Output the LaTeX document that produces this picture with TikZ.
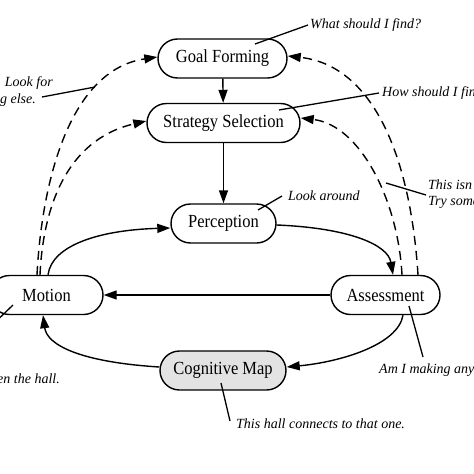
\documentclass[tikz,border=0pt]{standalone}
\usepackage{fontspec}
\setmainfont{Liberation Serif}
\usetikzlibrary{arrows.meta}
\newcommand{\tallbox}[1]{\scalebox{1}[1.12]{#1}}
\begin{document}
\begin{tikzpicture}[x=1pt,y=-1pt,
 box/.style={draw, line width=1.4pt, rounded corners=19.5pt, minimum height=39pt, inner sep=0pt, font=\fontsize{16.5}{20}\selectfont},
 note/.style={font=\fontsize{14}{16}\selectfont\itshape, inner sep=0pt},
 arr/.style={line width=1.4pt, -{Triangle[length=13pt,width=9pt]}},
 darr/.style={arr, dash pattern=on 9pt off 6pt},
 lead/.style={line width=1.3pt}]
\useasboundingbox (0,0) rectangle (474,474);
\clip (0,0) rectangle (474,474);
% boxes
\node[box, minimum width=129pt] (goal) at (222.5,58.5) {\tallbox{Goal Forming}};
\node[box, minimum width=153pt] (strat) at (223.5,123) {\tallbox{Strategy Selection}};
\node[box, minimum width=105pt] (perc) at (223.5,223.5) {\tallbox{Perception}};
\node[box, minimum width=113pt] (motion) at (46.5,295) {\tallbox{Motion}};
\node[box, minimum width=109pt] (assess) at (385.5,295) {\tallbox{Assessment}};
\node[box, minimum width=126pt, fill=gray!22] (cog) at (223,370.5) {\tallbox{Cognitive Map}};
% solid connectors
\draw[arr] (goal) -- (strat);
\draw[arr] (strat) -- (perc);
\draw[arr] (assess) -- (motion);
\draw[arr] ([yshift=-1.5pt]perc.east) .. controls (350,228) and (388,245) .. ([xshift=7.5pt]assess.north);
\draw[arr] ([xshift=1.5pt]motion.north) .. controls (52,245) and (100,230) .. ([yshift=-4.5pt]perc.west);
\draw[arr] ([xshift=17.5pt]assess.south) .. controls (398,345) and (340,362) .. ([yshift=3.5pt]cog.east);
\draw[arr] ([yshift=3.5pt]cog.west) .. controls (80,362) and (47,345) .. ([xshift=-3.5pt]motion.south);
% dashed connectors
\draw[darr] ([xshift=-9.5pt]motion.north) .. controls (42,180) and (70,70) .. ([yshift=1.5pt]goal.west);
\draw[darr] ([xshift=-6.5pt]motion.north) .. controls (43,210) and (65,140) .. ([yshift=2pt]strat.west);
\draw[darr] ([xshift=32.5pt]assess.north) .. controls (410,150) and (370,65) .. ([yshift=2.5pt]goal.east);
\draw[darr] ([xshift=16.5pt]assess.north) .. controls (398,200) and (360,125) .. ([yshift=5pt]strat.east);
% annotations
\node[note, anchor=west] (n1) at (310,25) {What should I find?};
\coordinate (c1) at (255,44);
\draw[lead] (c1) -- ([xshift=-2pt]n1.west);
\node[note, anchor=west] (n2) at (382,93) {How should I find it?};
\coordinate (c2) at (279,110);
\draw[lead] (c2) -- ([xshift=-3pt]n2.west);
\node[note, anchor=east] (n3a) at (53,83) {Look for};
\node[note, anchor=east] (n3b) at (36,100) {something else.};
\coordinate (c3a) at (42,97);
\coordinate (c3b) at (95,87);
\draw[lead] (c3a) -- (c3b);
\node[note, anchor=west] (n4) at (288,196) {Look around};
\coordinate (c4) at (258,210);
\draw[lead] (c4) -- ([xshift=-6pt]n4.west);
\node[note, anchor=west] (n5a) at (428,186) {This isn't working.};
\node[note, anchor=west] (n5b) at (428,202) {Try something else.};
\coordinate (c5) at (386,183);
\draw[lead] (c5) -- ([xshift=-2pt,yshift=-9pt]n5a.west);
\node[note, anchor=west] (n6) at (379,370) {Am I making any progress?};
\coordinate (c6a) at (409,306);
\coordinate (c6b) at (423,357);
\draw[lead] (c6a) -- (c6b);
\node[note, anchor=west] (n7) at (236,424) {This hall connects to that one.};
\coordinate (c7a) at (221,383);
\coordinate (c7b) at (230,421);
\draw[lead] (c7a) -- (c7b);
\node[note, anchor=east] (n8) at (60,379) {Go between the hall.};
\coordinate (c8a) at (13,305);
\coordinate (c8b) at (-15,332);
\draw[lead] (c8a) -- (c8b);
\end{tikzpicture}
\end{document}
